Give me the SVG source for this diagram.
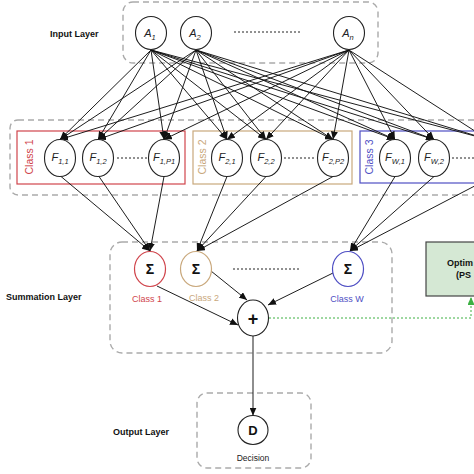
<svg xmlns="http://www.w3.org/2000/svg" width="474" height="474" viewBox="0 0 474 474">
<style>
text{font-family:"Liberation Sans",Arial,sans-serif;}
.lay{fill:none;stroke:#aaa;stroke-width:1.4;stroke-dasharray:6 4;}
.node{fill:#fff;stroke:#222;stroke-width:1.1;}
.lbl{font-size:11px;font-style:italic;fill:#222;text-anchor:middle;}
.sub{font-size:7.5px;}
.lname{font-size:9px;font-weight:bold;fill:#111;}
.edge{stroke:#111;stroke-width:0.95;fill:none;}
.arr{marker-end:url(#ah);}
.dots{stroke:#222;stroke-width:1;stroke-dasharray:2 2;}
</style>
<defs>
<marker id="ah" markerUnits="userSpaceOnUse" markerWidth="9" markerHeight="7" refX="8" refY="3.5" orient="auto"><path d="M0,0 L8,3.5 L0,7 z" fill="#111"/></marker>
<marker id="gh" markerUnits="userSpaceOnUse" markerWidth="9" markerHeight="7" refX="8" refY="3.5" orient="auto"><path d="M0,0 L8,3.5 L0,7 z" fill="#3cb043"/></marker>
</defs>

<g id="layers">
<rect class="lay" x="123" y="2" width="255" height="61" rx="10"/>
<rect class="lay" x="10" y="120" width="494" height="75" rx="8"/>
<rect class="lay" x="110" y="242" width="282" height="111" rx="12"/>
<rect class="lay" x="197" y="393" width="114" height="75" rx="10"/>
<text class="lname" x="50" y="37">Input Layer</text>
<text class="lname" x="6" y="300">Summation Layer</text>
<text class="lname" x="113" y="435">Output Layer</text>
</g>

<g id="classes">
<rect x="17" y="131" width="168" height="53" fill="none" stroke="#d0454c" stroke-width="1.2"/>
<text transform="translate(33,157) rotate(-90)" text-anchor="middle" font-size="10.5" fill="#d0454c">Class 1</text>
<rect x="193" y="131" width="159" height="53" fill="none" stroke="#c9a87c" stroke-width="1.2"/>
<text transform="translate(206,157) rotate(-90)" text-anchor="middle" font-size="10.5" fill="#c9a87c">Class 2</text>
<rect x="360" y="131" width="150" height="52" fill="none" stroke="#4f4fc4" stroke-width="1.2"/>
<text transform="translate(373,157) rotate(-90)" text-anchor="middle" font-size="10.5" fill="#4f4fc4">Class 3</text>
</g>

<g id="optimizer">
<rect x="426" y="242" width="70" height="54" fill="#d5e8d4" stroke="#444" stroke-width="1.2"/>
<text x="447" y="266" font-size="9" font-weight="bold" fill="#111">Optim</text>
<text x="456" y="278" font-size="9" font-weight="bold" fill="#111">(PS</text>
</g>

<g id="connectors">
<g class="edge arr">
<line x1="151" y1="50" x2="60" y2="139.5"/>
<line x1="151" y1="50" x2="98" y2="139.5"/>
<line x1="151" y1="50" x2="164" y2="139.5"/>
<line x1="151" y1="50" x2="227" y2="139.5"/>
<line x1="151" y1="50" x2="266" y2="139.5"/>
<line x1="151" y1="50" x2="333" y2="139.5"/>
<line x1="151" y1="50" x2="395" y2="139.5"/>
<line x1="151" y1="50" x2="434" y2="139.5"/>
<line x1="151" y1="50" x2="488" y2="139.5"/>
<line x1="196" y1="50" x2="60" y2="139.5"/>
<line x1="196" y1="50" x2="98" y2="139.5"/>
<line x1="196" y1="50" x2="164" y2="139.5"/>
<line x1="196" y1="50" x2="227" y2="139.5"/>
<line x1="196" y1="50" x2="266" y2="139.5"/>
<line x1="196" y1="50" x2="333" y2="139.5"/>
<line x1="196" y1="50" x2="395" y2="139.5"/>
<line x1="196" y1="50" x2="434" y2="139.5"/>
<line x1="196" y1="50" x2="488" y2="139.5"/>
<line x1="349" y1="50" x2="60" y2="139.5"/>
<line x1="349" y1="50" x2="98" y2="139.5"/>
<line x1="349" y1="50" x2="164" y2="139.5"/>
<line x1="349" y1="50" x2="227" y2="139.5"/>
<line x1="349" y1="50" x2="266" y2="139.5"/>
<line x1="349" y1="50" x2="333" y2="139.5"/>
<line x1="349" y1="50" x2="395" y2="139.5"/>
<line x1="349" y1="50" x2="434" y2="139.5"/>
<line x1="349" y1="50" x2="488" y2="139.5"/>
<line x1="61" y1="176.5" x2="150" y2="251"/>
<line x1="99" y1="176.5" x2="150" y2="251"/>
<line x1="164" y1="176.5" x2="150" y2="251"/>
<line x1="227" y1="176.5" x2="197" y2="251"/>
<line x1="266" y1="176.5" x2="197" y2="251"/>
<line x1="333" y1="176.5" x2="197" y2="251"/>
<line x1="395" y1="176.5" x2="350" y2="251"/>
<line x1="434" y1="176.5" x2="350" y2="251"/>
<line x1="490" y1="178" x2="350" y2="251"/>
<line x1="157" y1="286" x2="238" y2="325"/>
<line x1="211" y1="271" x2="247" y2="300"/>
<line x1="333" y1="273" x2="268" y2="305"/>
<line x1="253" y1="336" x2="253" y2="415.5"/>
</g>
<path d="M269,318 H471 V297" fill="none" stroke="#3cb043" stroke-width="1" stroke-dasharray="2 2" marker-end="url(#gh)"/>
<line class="dots" x1="234" y1="32" x2="301" y2="32"/>
<line class="dots" x1="117" y1="158" x2="147" y2="158"/>
<line class="dots" x1="284" y1="158" x2="316" y2="158"/>
<line class="dots" x1="452" y1="158" x2="474" y2="158"/>
<line class="dots" x1="233" y1="269" x2="300" y2="269"/>
</g>

<g id="A1"><ellipse class="node" cx="151" cy="33" rx="15.5" ry="16.5"/><text class="lbl" x="150" y="37">A<tspan class="sub" dy="2.5">1</tspan></text></g>
<g id="A2"><ellipse class="node" cx="196" cy="33" rx="15.5" ry="16.5"/><text class="lbl" x="195" y="37">A<tspan class="sub" dy="2.5">2</tspan></text></g>
<g id="An"><ellipse class="node" cx="349" cy="33" rx="15.5" ry="16.5"/><text class="lbl" x="348" y="37">A<tspan class="sub" dy="2.5">n</tspan></text></g>

<g id="F11"><ellipse class="node" cx="60" cy="158" rx="15.5" ry="18.5"/><text class="lbl" x="60" y="161">F<tspan class="sub" dy="2.5">1,1</tspan></text></g>
<g id="F12"><ellipse class="node" cx="98" cy="158" rx="15.5" ry="18.5"/><text class="lbl" x="98" y="161">F<tspan class="sub" dy="2.5">1,2</tspan></text></g>
<g id="F1P1"><ellipse class="node" cx="164" cy="158" rx="15.5" ry="18.5"/><text class="lbl" x="164" y="161">F<tspan class="sub" dy="2.5">1,P1</tspan></text></g>
<g id="F21"><ellipse class="node" cx="227" cy="158" rx="15.5" ry="18.5"/><text class="lbl" x="227" y="161">F<tspan class="sub" dy="2.5">2,1</tspan></text></g>
<g id="F22"><ellipse class="node" cx="266" cy="158" rx="15.5" ry="18.5"/><text class="lbl" x="266" y="161">F<tspan class="sub" dy="2.5">2,2</tspan></text></g>
<g id="F2P2"><ellipse class="node" cx="333" cy="158" rx="15.5" ry="18.5"/><text class="lbl" x="333" y="161">F<tspan class="sub" dy="2.5">2,P2</tspan></text></g>
<g id="FW1"><ellipse class="node" cx="395" cy="158" rx="15.5" ry="18.5"/><text class="lbl" x="395" y="161">F<tspan class="sub" dy="2.5">W,1</tspan></text></g>
<g id="FW2"><ellipse class="node" cx="434" cy="158" rx="15.5" ry="18.5"/><text class="lbl" x="434" y="161">F<tspan class="sub" dy="2.5">W,2</tspan></text></g>

<g id="S1"><ellipse cx="150" cy="269" rx="15.5" ry="17.5" fill="#fff" stroke="#d0454c" stroke-width="1.2"/><text x="150" y="274" text-anchor="middle" font-size="14" font-weight="bold" fill="#111">Σ</text><text x="147" y="302" text-anchor="middle" font-size="9" fill="#d0454c">Class 1</text></g>
<g id="S2"><ellipse cx="196" cy="269" rx="15.5" ry="17.5" fill="#fff" stroke="#c9a87c" stroke-width="1.2"/><text x="196" y="274" text-anchor="middle" font-size="14" font-weight="bold" fill="#111">Σ</text><text x="204" y="301" text-anchor="middle" font-size="9" fill="#c9a87c">Class 2</text></g>
<g id="SW"><ellipse cx="348" cy="269" rx="15.5" ry="17.5" fill="#fff" stroke="#4f4fc4" stroke-width="1.2"/><text x="348" y="274" text-anchor="middle" font-size="14" font-weight="bold" fill="#111">Σ</text><text x="347" y="302" text-anchor="middle" font-size="9" fill="#4f4fc4">Class W</text></g>

<g id="plus"><ellipse class="node" cx="253" cy="318" rx="15.5" ry="18"/><text x="253" y="324.5" text-anchor="middle" font-size="18" font-weight="bold" fill="#111">+</text></g>
<g id="D"><ellipse class="node" cx="253" cy="430" rx="15" ry="14.5"/><text x="253" y="435" text-anchor="middle" font-size="13" font-weight="bold" fill="#111">D</text><text x="253" y="461" text-anchor="middle" font-size="8.5" fill="#222">Decision</text></g>
</svg>
